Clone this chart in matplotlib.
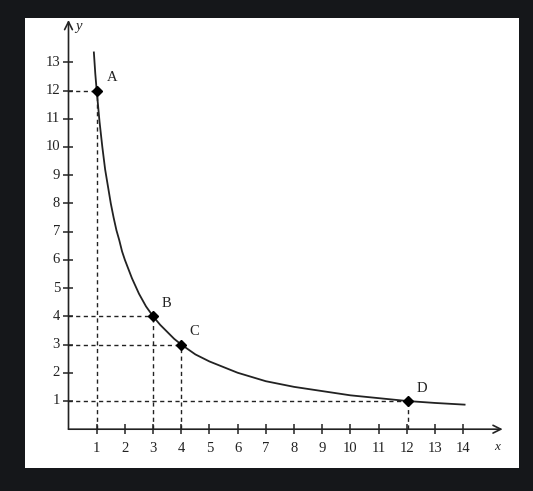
import numpy as np
import matplotlib
matplotlib.use('Agg')
import matplotlib.pyplot as plt

# curve
curve_x = [0.9, 0.95, 1, 1.05, 1.1, 1.2, 1.3, 1.4, 1.5, 1.6, 1.7, 1.8, 1.9, 2, 2.25,
           2.5, 2.75, 3, 3.25, 3.5, 3.75, 4, 4.5, 5, 5.5, 6, 6.5, 7, 8, 9, 10, 11,
           12, 13, 14.05]
curve_y = [13.35, 12.6, 12, 11.45, 10.9, 10, 9.2, 8.6, 8, 7.5, 7.05, 6.7, 6.3, 6,
           5.35, 4.8, 4.35, 4, 3.7, 3.45, 3.2, 3, 2.65, 2.4, 2.2, 2, 1.85, 1.7,
           1.5, 1.35, 1.2, 1.1, 1.0, 0.93, 0.87]

# labelled points
pt_names = ['A', 'B', 'C', 'D']
pt_x = [1, 3, 4, 12.05]
pt_y = [12, 4, 3, 1]

x_ticks = list(range(1, 15))
y_ticks = list(range(1, 14))

W, H = 533, 491
fig = plt.figure(figsize=(W/100, H/100), dpi=100)
fig.patch.set_facecolor('#15171a')

# white panel in pixels: left 25, right 519, top 18, bottom 468
ax = fig.add_axes([25/W, 1-468/H, (519-25)/W, (468-18)/H])
ax.set_facecolor('white')
ax.set_xlim(-1.543, 15.98)
ax.set_ylim(-1.375, 14.57)
for s in ax.spines.values():
    s.set_visible(False)
ax.set_xticks([])
ax.set_yticks([])

lc = '#222222'
serif = 'Liberation Serif'
fz = 10.5

# axes with open arrow heads
ax.annotate('', xy=(15.4, 0), xytext=(0, 0),
            arrowprops=dict(arrowstyle='->', color=lc, lw=1.2,
                            shrinkA=0, shrinkB=0, mutation_scale=14))
ax.annotate('', xy=(0, 14.5), xytext=(0, 0),
            arrowprops=dict(arrowstyle='->', color=lc, lw=1.2,
                            shrinkA=0, shrinkB=0, mutation_scale=14))

# tick crosses
ax.plot(x_ticks, np.zeros(len(x_ticks)), ls='none', marker='|', ms=7, mew=1.1, color=lc)
ax.plot(np.zeros(len(y_ticks)), y_ticks, ls='none', marker='_', ms=7, mew=1.1, color=lc)

for t in x_ticks:
    ax.text(t, -0.67, str(t), ha='center', va='center', fontsize=fz, family=serif, color=lc)
for t in y_ticks:
    ax.text(-0.3, t, str(t), ha='right', va='center', fontsize=fz, family=serif, color=lc)

ax.text(0.37, 14.27, 'y', ha='center', va='center', fontsize=fz, family=serif,
        style='italic', color=lc)
ax.text(15.2, -0.63, 'x', ha='center', va='center', fontsize=fz - 1, family=serif,
        style='italic', color=lc)

# dashed guides
for x, y in zip(pt_x, pt_y):
    ax.plot([0, x], [y, y], ls=(0, (3, 2.5)), lw=1.0, color=lc)
    ax.plot([x, x], [0, y], ls=(0, (3, 2.5)), lw=1.0, color=lc)

ax.plot(curve_x, curve_y, color=lc, lw=1.3)
ax.plot(pt_x, pt_y, ls='none', marker='D', ms=5.5, color='black')

offs = [(0.35, 0.45), (0.3, 0.45), (0.3, 0.45), (0.3, 0.45)]
for n, x, y, (dx, dy) in zip(pt_names, pt_x, pt_y, offs):
    ax.text(x + dx, y + dy, n, ha='left', va='center', fontsize=fz, family=serif, color=lc)

fig.savefig('out.png', dpi=100, facecolor=fig.get_facecolor())
